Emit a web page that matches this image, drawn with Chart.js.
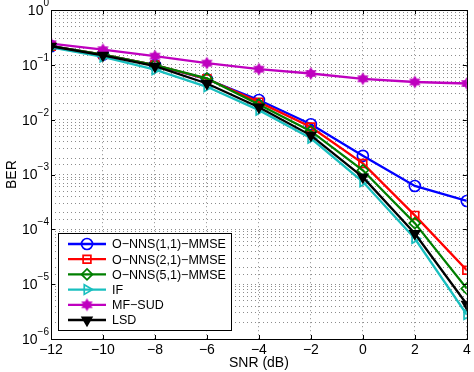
<!DOCTYPE html>
<html>
<head>
<meta charset="utf-8">
<script src="https://cdn.jsdelivr.net/npm/chart.js@4.4.1/dist/chart.umd.min.js"></script>
<style>
  html, body { margin: 0; padding: 0; background: #fff; }
  #wrap { width: 474px; height: 372px; }
</style>
</head>
<body>
<div id="wrap"><canvas id="ber" width="474" height="372"></canvas></div>
<script>
const FONT = '"Liberation Sans", Arial, Helvetica, sans-serif';

// SNR points (dB)
const snr = [-12, -10, -8, -6, -4, -2, 0, 2, 4];

// BER
const berNns11 = [0.22, 0.155, 0.10, 0.055, 0.023, 0.0083, 0.0022, 0.00062, 0.00033];
const berNns21 = [0.22, 0.155, 0.10, 0.056, 0.021, 0.0074, 0.0016, 0.00018, 0.000018];
const berNns51 = [0.22, 0.155, 0.10, 0.057, 0.019, 0.0062, 0.0012, 0.00013, 0.0000083];
const berIf = [0.21, 0.14, 0.082, 0.040, 0.015, 0.0046, 0.00074, 0.000068, 0.0000028];
const berMfSud = [0.245, 0.19, 0.145, 0.108, 0.084, 0.070, 0.056, 0.049, 0.046];
const berLsd = [0.22, 0.15, 0.095, 0.046, 0.017, 0.0052, 0.0009, 0.000084, 0.0000043];

const seriesNames = ['O\u2212NNS(1,1)\u2212MMSE', 'O\u2212NNS(2,1)\u2212MMSE', 'O\u2212NNS(5,1)\u2212MMSE', 'IF', 'MF\u2212SUD', 'LSD'];
const seriesData = [berNns11, berNns21, berNns51, berIf, berMfSud, berLsd];
const seriesColors = ['#0000ff', '#ff0000', '#007f00', '#19bfbf', '#bf00bf', '#000000'];

// y decades shown on the axis
const yDecades = [0, -1, -2, -3, -4, -5, -6];
const xTicks = [-12, -10, -8, -6, -4, -2, 0, 2, 4];

function makeHexagram(color, r) {
  const c = document.createElement('canvas');
  const s = Math.ceil(r * 2 + 2);
  c.width = s;
  c.height = s;
  const g = c.getContext('2d');
  const cx = s / 2, cy = s / 2;
  g.fillStyle = color;
  [[-90, 30, 150], [90, 210, 330]].forEach(tri => {
    g.beginPath();
    tri.forEach((a, i) => {
      const rad = a * Math.PI / 180;
      const px = cx + r * Math.cos(rad), py = cy + r * Math.sin(rad);
      if (i === 0) g.moveTo(px, py); else g.lineTo(px, py);
    });
    g.closePath();
    g.fill();
  });
  return c;
}

const hexStar = makeHexagram(seriesColors[4], 6.5);

// marker style per series
const markers = [
  {style: 'circle', rotation: 0, filled: false},
  {style: 'rect', rotation: 0, filled: false},
  {style: 'rectRot', rotation: 0, filled: false},
  {style: 'triangle', rotation: 90, filled: false},
  {style: hexStar, rotation: 0, filled: true},
  {style: 'triangle', rotation: 180, filled: true}
];

const datasets = seriesData.map((vals, i) => ({
  label: seriesNames[i],
  data: snr.map((x, k) => ({x, y: vals[k]})),
  borderColor: seriesColors[i],
  backgroundColor: seriesColors[i],
  borderWidth: 2.3,
  pointStyle: markers[i].style,
  rotation: markers[i].rotation,
  pointRadius: 5.5,
  pointBorderWidth: 1.7,
  pointBorderColor: seriesColors[i],
  pointBackgroundColor: markers[i].filled ? seriesColors[i] : 'rgba(0,0,0,0)',
  order: 6 - i,
  tension: 0,
  fill: false
}));

function drawMarker(ctx, m, color, x, y, r) {
  if (typeof m.style !== 'string') {
    ctx.drawImage(m.style, x - m.style.width / 2, y - m.style.height / 2);
    return;
  }
  ctx.save();
  ctx.translate(x, y);
  ctx.rotate(m.rotation * Math.PI / 180);
  ctx.beginPath();
  if (m.style === 'circle') {
    ctx.arc(0, 0, r, 0, Math.PI * 2);
  } else if (m.style === 'rect') {
    const h = r * Math.SQRT1_2;
    ctx.rect(-h, -h, 2 * h, 2 * h);
  } else if (m.style === 'rectRot') {
    ctx.moveTo(0, -r); ctx.lineTo(r, 0); ctx.lineTo(0, r); ctx.lineTo(-r, 0); ctx.closePath();
  } else if (m.style === 'triangle') {
    ctx.moveTo(0, -r);
    ctx.lineTo(r * Math.sin(Math.PI * 2 / 3), -r * Math.cos(Math.PI * 2 / 3));
    ctx.lineTo(-r * Math.sin(Math.PI * 2 / 3), -r * Math.cos(Math.PI * 2 / 3));
    ctx.closePath();
  }
  ctx.lineWidth = 1.7;
  ctx.strokeStyle = color;
  if (m.filled) {
    ctx.fillStyle = color;
    ctx.fill();
  }
  ctx.stroke();
  ctx.restore();
}

const decor = {
  id: 'decor',
  afterDraw(chart) {
    const ctx = chart.ctx;
    const area = chart.chartArea;
    const xs = chart.scales.x, ys = chart.scales.y;
    ctx.save();

    // box and inward ticks
    ctx.strokeStyle = '#000';
    ctx.lineWidth = 1;
    ctx.strokeRect(Math.round(area.left) + 0.5, Math.round(area.top) + 0.5,
        Math.round(area.right - area.left), Math.round(area.bottom - area.top));
    ctx.beginPath();
    xTicks.forEach(v => {
      const px = Math.round(xs.getPixelForValue(v)) + 0.5;
      ctx.moveTo(px, area.bottom); ctx.lineTo(px, area.bottom - 4);
      ctx.moveTo(px, area.top); ctx.lineTo(px, area.top + 4);
    });
    yDecades.forEach(e => {
      const py = Math.round(ys.getPixelForValue(Math.pow(10, e))) + 0.5;
      ctx.moveTo(area.left, py); ctx.lineTo(area.left + 4, py);
      ctx.moveTo(area.right, py); ctx.lineTo(area.right - 4, py);
    });
    ctx.stroke();

    // y tick labels with superscripts
    ctx.fillStyle = '#000';
    ctx.textBaseline = 'middle';
    yDecades.forEach(e => {
      const py = ys.getPixelForValue(Math.pow(10, e));
      const sup = e === 0 ? '0' : '\u2212' + Math.abs(e);
      ctx.font = '10px ' + FONT;
      const supW = ctx.measureText(sup).width;
      const supX = area.left - 2 - supW;
      ctx.textAlign = 'left';
      ctx.fillText(sup, supX, py - 7);
      ctx.font = '14px ' + FONT;
      ctx.textAlign = 'right';
      ctx.fillText('10', supX, py + 1);
    });

    // axis titles
    ctx.font = '14px ' + FONT;
    ctx.textAlign = 'center';
    ctx.fillText('SNR (dB)', (area.left + area.right) / 2, 363);
    ctx.save();
    ctx.translate(12, (area.top + area.bottom) / 2);
    ctx.rotate(-Math.PI / 2);
    ctx.fillText('BER', 0, 0);
    ctx.restore();

    // legend box
    const lx = 58, ly = 233, lw = 173, lh = 97;
    ctx.fillStyle = '#fff';
    ctx.fillRect(lx, ly, lw, lh);
    ctx.strokeStyle = '#000';
    ctx.lineWidth = 1;
    ctx.strokeRect(lx + 0.5, ly + 0.5, lw, lh);
    ctx.font = '12.5px ' + FONT;
    ctx.textAlign = 'left';
    seriesNames.forEach((name, i) => {
      const y = 244 + i * 15.2;
      ctx.strokeStyle = seriesColors[i];
      ctx.lineWidth = 2.3;
      ctx.beginPath();
      ctx.moveTo(68, y); ctx.lineTo(106, y);
      ctx.stroke();
      drawMarker(ctx, markers[i], seriesColors[i], 87, y, 5.5);
      ctx.fillStyle = '#000';
      ctx.fillText(name, 112, y + 1);
    });
    ctx.restore();
  }
};

new Chart(document.getElementById('ber'), {
  type: 'line',
  data: {datasets},
  plugins: [decor],
  options: {
    responsive: false,
    animation: false,
    devicePixelRatio: 1,
    layout: {padding: {left: 0, right: 7, top: 10, bottom: 0}},
    plugins: {legend: {display: false}, tooltip: {enabled: false}},
    scales: {
      x: {
        type: 'linear',
        min: -12,
        max: 4,
        afterFit: s => { s.height = 33; },
        ticks: {
          stepSize: 2,
          color: '#000',
          padding: 3,
          font: {family: FONT, size: 14},
          callback: v => (v < 0 ? '\u2212' + Math.abs(v) : String(v))
        },
        grid: {color: 'rgba(0,0,0,0.45)', lineWidth: 1, drawTicks: false},
        border: {display: false, dash: [1, 3]}
      },
      y: {
        type: 'logarithmic',
        min: 1e-6,
        max: 1,
        afterFit: s => { s.width = 51; },
        ticks: {autoSkip: false, callback: () => ''},
        grid: {color: 'rgba(0,0,0,0.45)', lineWidth: 1, drawTicks: false},
        border: {display: false, dash: [1, 3]}
      }
    }
  }
});
</script>
</body>
</html>
